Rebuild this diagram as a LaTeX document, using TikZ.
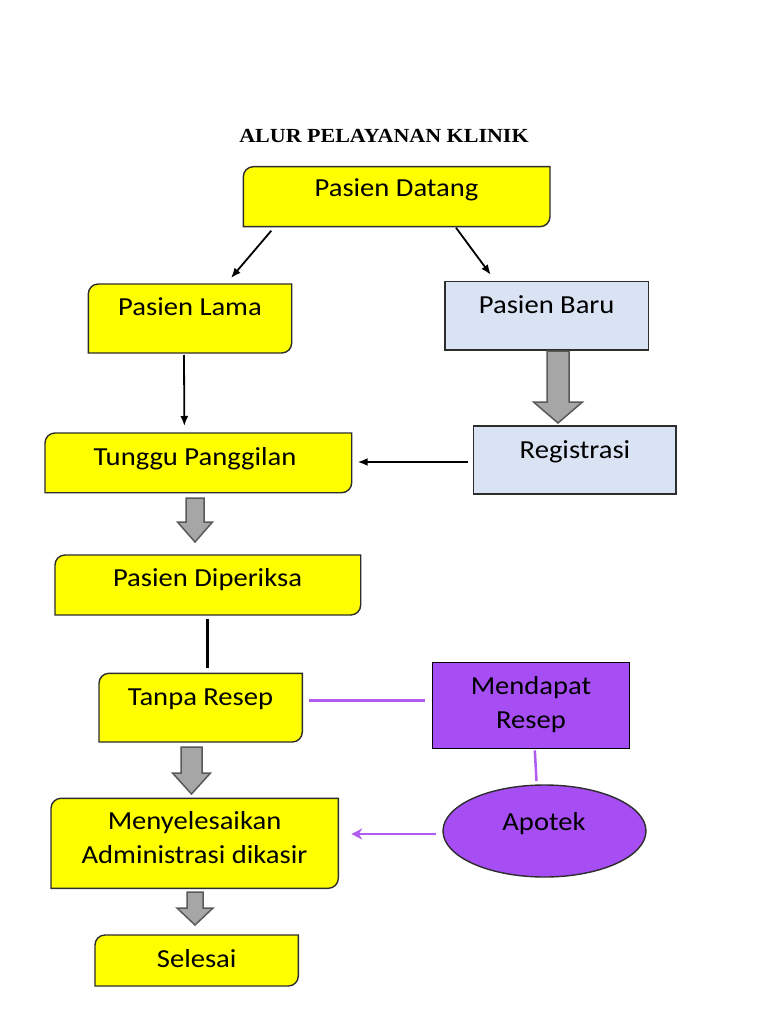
\documentclass[tikz,border=0pt]{standalone}
\usepackage{fontspec}
\setmainfont{Carlito}[FakeStretch=1.1]
\newfontfamily\titlefont{Liberation Serif}[FakeStretch=1.1]
\usetikzlibrary{arrows.meta,calc,shapes.geometric}
\definecolor{yel}{RGB}{255,255,0}
\definecolor{lblue}{RGB}{218,227,243}
\definecolor{purp}{RGB}{166,77,244}
\definecolor{purpl}{RGB}{176,92,240}
\definecolor{barfill}{RGB}{166,166,166}
\definecolor{bardraw}{RGB}{89,89,89}
\definecolor{edge}{RGB}{45,45,45}
\tikzset{
  boxnode/.style={draw=none, inner sep=0, outer sep=0},
  ybox/.style={draw=edge, fill=yel, line width=1.4pt},
  bbox/.style={draw=edge, fill=lblue, line width=1.4pt, inner sep=0, outer sep=0},
  pbox/.style={draw=black, fill=purp, line width=1.4pt, inner sep=0, outer sep=0},
  txt/.style={anchor=base, inner sep=0, font=\fontsize{26}{33.5}\selectfont, align=center},
  arr/.style={-{Latex[length=10pt,width=8pt]}, line width=1.8pt, black},
  thickline/.style={line width=2.8pt, black},
  plink/.style={purpl, line width=2.5pt},
  parr/.style={plink, -{Stealth[length=11pt,width=11pt]}},
  blockarr/.style={fill=barfill, draw=bardraw, line width=1.5pt, line join=miter}
}
\newcommand\mkbox[5]{\node[boxnode, minimum width={#4-#2}, minimum height={#5-#3}] (#1) at ({(#2+#4)/2},{-(#3+#5)/2}) {};}
\newcommand\rrdraw[1]{\draw[ybox] (#1.south west) -- ([yshift=-10pt]#1.north west) arc[start angle=180,end angle=90,radius=10pt] -- (#1.north east) -- ([yshift=10pt]#1.south east) arc[start angle=0,end angle=-90,radius=10pt] -- cycle;}
\newcommand\blockarrow[6]{\draw[blockarr] ({#1-#5},-#2) -- ({#1-#5},-#3) -- ({#1-#6},-#3) -- (#1,-#4) -- ({#1+#6},-#3) -- ({#1+#5},-#3) -- ({#1+#5},-#2) -- cycle;}
\begin{document}
\begin{tikzpicture}[x=1pt,y=1pt]
\useasboundingbox (0,0) rectangle (768,-1024);
% title
\node[anchor=base, inner sep=0, font=\titlefont\bfseries\fontsize{20}{24}\selectfont] (title) at (384,-142.7) {ALUR PELAYANAN KLINIK};
% yellow boxes
\mkbox{datang}{243.3}{166.7}{550}{226.7}
\mkbox{lama}{88.3}{284}{291.7}{353}
\mkbox{tunggu}{45}{433}{351.7}{492.7}
\mkbox{periksa}{55}{555}{360.7}{615}
\mkbox{tanpa}{99}{673.3}{302.3}{742}
\mkbox{menyel}{51}{798.3}{338.3}{888.3}
\mkbox{selesai}{95}{935}{298.3}{986}
\rrdraw{datang}
\rrdraw{lama}
\rrdraw{tunggu}
\rrdraw{periksa}
\rrdraw{tanpa}
\rrdraw{menyel}
\rrdraw{selesai}
% blue boxes
\node[bbox, minimum width=203.3, minimum height=68.3] (baru) at (546.7,-315.9) {};
\node[bbox, minimum width=202.7, minimum height=68] (reg) at (574.7,-460) {};
% purple
\node[pbox, minimum width=197, minimum height=86] (mendapat) at (530.8,-705.3) {};
\node[ellipse, draw=edge, fill=purp, line width=1.4pt, inner sep=0, outer sep=0, minimum width=203, minimum height=92] (apotek) at (544.5,-831) {};
% texts
\node[txt] (datang-t) at (396.5,-197) {Pasien Datang};
\node[txt] (lama-t) at (190,-315) {Pasien Lama};
\node[txt] (baru-t) at (546.7,-313.5) {Pasien Baru};
\node[txt] (reg-t) at (575,-458.3) {Registrasi};
\node[txt] (tunggu-t) at (195,-465) {Tunggu Panggilan};
\node[txt] (periksa-t) at (207.5,-586) {Pasien Diperiksa};
\node[txt] (tanpa-t) at (200.5,-705) {Tanpa Resep};
\node[txt] (mendapat-t) at (531,-728) {Mendapat\\Resep};
\node[txt] (apotek-t) at (544,-830) {Apotek};
\node[txt] (menyel-t) at (194.5,-863) {Menyelesaikan\\Administrasi dikasir};
\node[txt] (selesai-t) at (196.7,-967) {Selesai};
% block arrows
\blockarrow{558}{351}{402}{423}{11}{24.5}
\blockarrow{195}{498}{522}{542}{9}{17.5}
\blockarrow{191.5}{747}{773}{794}{10.5}{19}
\blockarrow{195}{892}{908}{925}{8}{18}
% connectors
\draw[arr] ([xshift=28pt,yshift=-4pt]datang.south west) -- ([xshift=41pt,yshift=6pt]lama.north);
\draw[arr] ([xshift=-94pt,yshift=-1pt]datang.south east) -- ([xshift=-56pt,yshift=7pt]baru.north);
\draw[arr] ([xshift=-6pt,yshift=-2pt]lama.south) -- ([xshift=-14pt,yshift=7pt]tunggu.north);
\draw[arr] ([xshift=-5pt,yshift=-2pt]reg.west) -- ([xshift=6pt,yshift=-2pt]reg.west -| tunggu.east);
\draw[thickline] ([yshift=-4pt]periksa.south) -- ([yshift=5pt]periksa.south |- tanpa.north);
\draw[plink] ([xshift=7pt,yshift=7pt]tanpa.east) -- ([xshift=-7pt,yshift=7pt]tanpa.east -| mendapat.west);
\draw[plink] ([xshift=4pt,yshift=-2pt]mendapat.south) -- ([xshift=-8pt,yshift=4pt]apotek.north);
\draw[parr] ([xshift=-7pt,yshift=-3pt]apotek.west) -- ([xshift=13pt,yshift=-3pt]apotek.west -| menyel.east);
\end{tikzpicture}
\end{document}
